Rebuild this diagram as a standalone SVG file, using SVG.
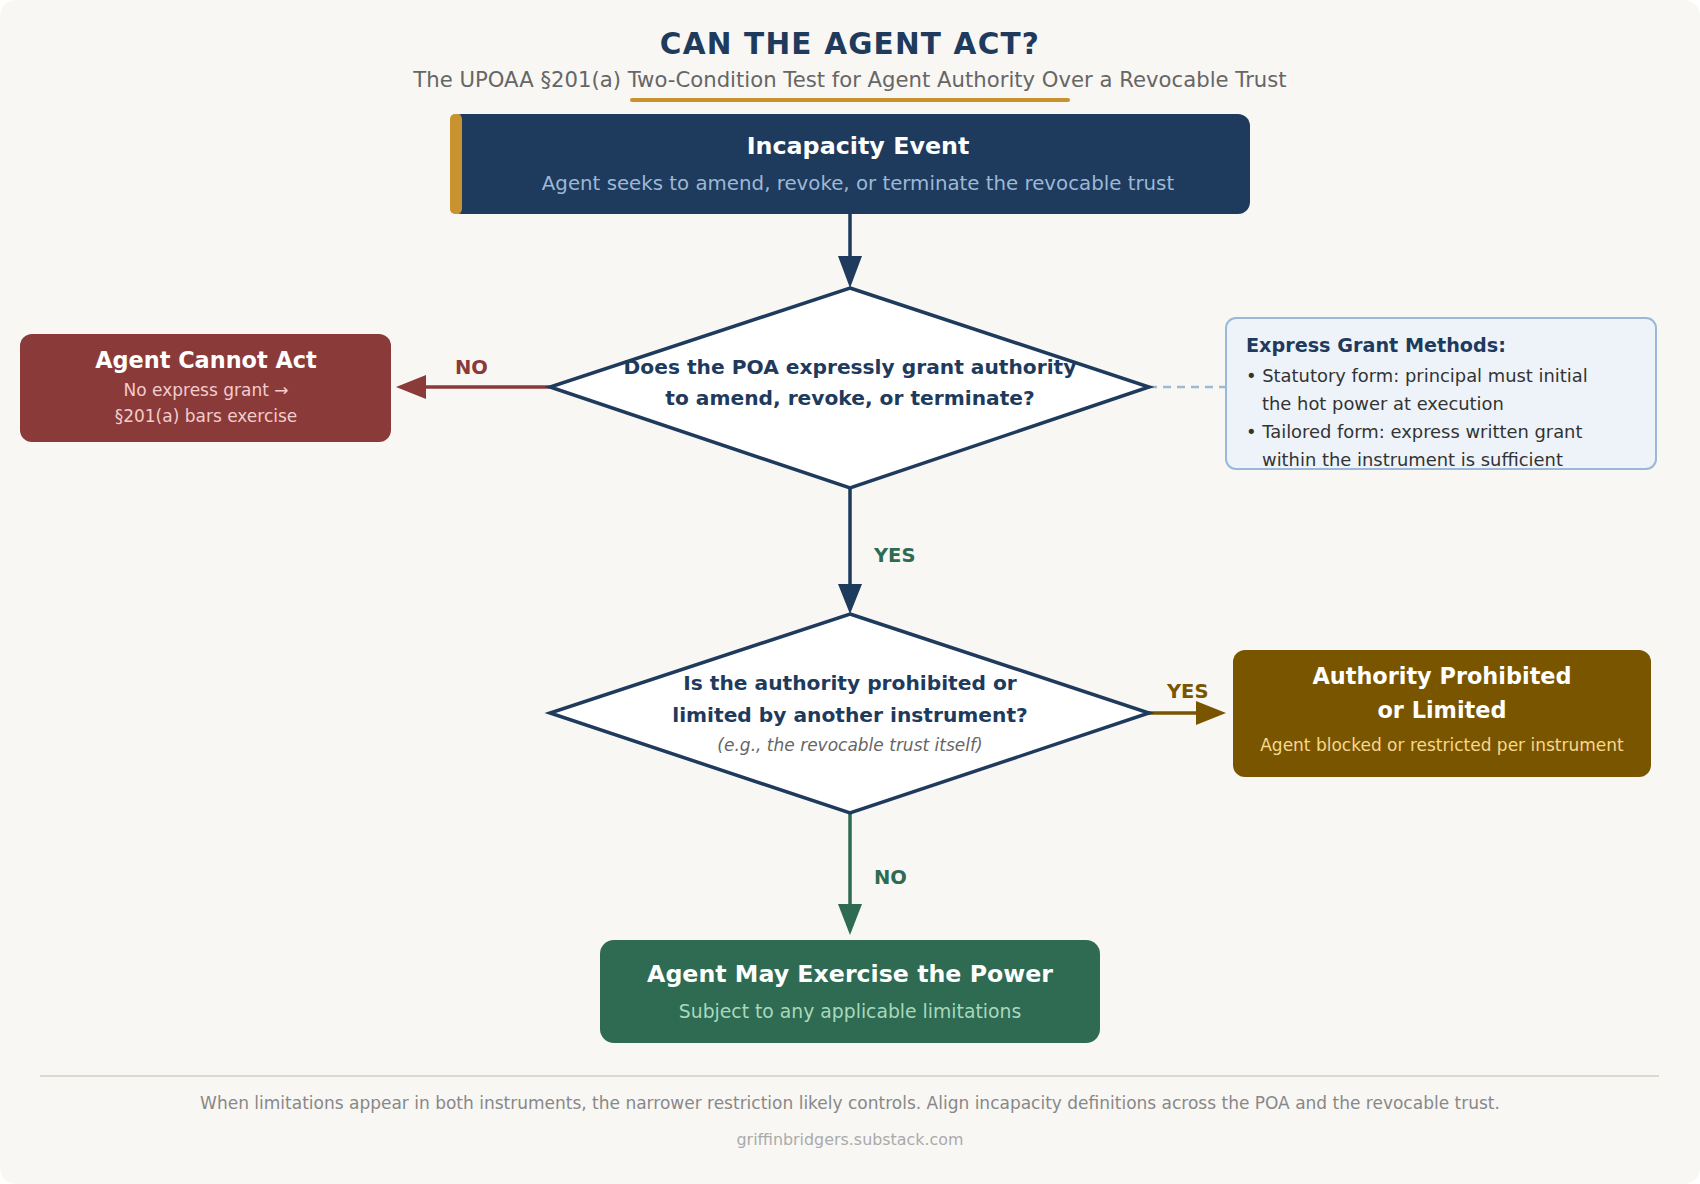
<svg xmlns="http://www.w3.org/2000/svg" width="1700" height="1184" viewBox="0 0 1700 1184">
<defs>
<style>
text{font-family:"DejaVu Sans","Liberation Sans",sans-serif;text-anchor:middle}
.h{font-weight:bold;font-size:22.4px;fill:#ffffff}
.q{font-weight:bold;font-size:20.2px;fill:#1e3a5c}
.lbl{font-weight:bold;font-size:19.5px;text-anchor:start}
.sm{font-size:17px}
.info{font-size:17.9px;fill:#333333;text-anchor:start}
.dia{fill:#ffffff;stroke:#1e3a5c;stroke-width:3.5}
</style>
</defs>
<rect x="0" y="0" width="1700" height="1184" rx="16" fill="#f8f7f4"/>
<text x="850" y="54" style="font-size:29.5px;font-weight:bold;fill:#1e3a5c;letter-spacing:1.2px">CAN THE AGENT ACT?</text>
<text x="850" y="87" style="font-size:21.2px;fill:#666666">The UPOAA §201(a) Two-Condition Test for Agent Authority Over a Revocable Trust</text>
<line x1="632" y1="100" x2="1068" y2="100" stroke="#c8922e" stroke-width="4" stroke-linecap="round"/>

<g id="connectors">
<line x1="850" y1="214" x2="850" y2="258" stroke="#1e3a5c" stroke-width="3.5"/>
<path d="M838,256 L862,256 L850,288 Z" fill="#1e3a5c"/>
<line x1="550" y1="387" x2="424" y2="387" stroke="#8b3a3a" stroke-width="3.5"/>
<path d="M426,375 L426,399 L396,387 Z" fill="#8b3a3a"/>
<text x="455" y="374" class="lbl" style="fill:#8b3a3a">NO</text>
<line x1="1149" y1="387" x2="1225" y2="387" stroke="#9ab8d8" stroke-width="2.5" stroke-dasharray="8,6"/>
<line x1="850" y1="488" x2="850" y2="586" stroke="#1e3a5c" stroke-width="3.5"/>
<path d="M838,584 L862,584 L850,614 Z" fill="#1e3a5c"/>
<text x="874" y="562" class="lbl" style="fill:#2e6b52">YES</text>
<line x1="1149" y1="713" x2="1198" y2="713" stroke="#7a5500" stroke-width="3.5"/>
<path d="M1196,701 L1196,725 L1226,713 Z" fill="#7a5500"/>
<text x="1167" y="698" class="lbl" style="fill:#7a5500">YES</text>
<line x1="850" y1="813" x2="850" y2="906" stroke="#2e6b52" stroke-width="3.5"/>
<path d="M838,904 L862,904 L850,935 Z" fill="#2e6b52"/>
<text x="874" y="884" class="lbl" style="fill:#2e6b52">NO</text>
</g>

<g id="start">
<rect x="450" y="114" width="800" height="100" rx="12" fill="#1e3a5c"/>
<rect x="450" y="114" width="12" height="100" rx="5" fill="#c8922e"/>
<text x="858" y="154" class="h" style="font-size:23.8px">Incapacity Event</text>
<text x="858" y="190" style="font-size:19.8px;fill:#9db8d6">Agent seeks to amend, revoke, or terminate the revocable trust</text>
</g>

<g id="q1">
<path d="M850,288 L1149,387 L850,488 L550,387 Z" class="dia"/>
<text x="850" y="374" class="q">Does the POA expressly grant authority</text>
<text x="850" y="405" class="q">to amend, revoke, or terminate?</text>
</g>

<g id="cannot">
<rect x="20" y="334" width="371" height="108" rx="12" fill="#8b3a3a"/>
<text x="206" y="368" class="h">Agent Cannot Act</text>
<text x="206" y="396" class="sm" style="fill:#f2cccc">No express grant →</text>
<text x="206" y="422" class="sm" style="fill:#f2cccc">§201(a) bars exercise</text>
</g>

<g id="info">
<rect x="1226" y="318" width="430" height="151" rx="10" fill="#eef3fa" stroke="#9ab8d8" stroke-width="2"/>
<text x="1246" y="352" style="font-size:19.2px;font-weight:bold;fill:#1e3a5c;text-anchor:start">Express Grant Methods:</text>
<text x="1246" y="382" class="info">• Statutory form: principal must initial</text>
<text x="1262" y="410" class="info">the hot power at execution</text>
<text x="1246" y="438" class="info">• Tailored form: express written grant</text>
<text x="1262" y="466" class="info">within the instrument is sufficient</text>
</g>

<g id="q2">
<path d="M850,614 L1149,713 L850,813 L550,713 Z" class="dia"/>
<text x="850" y="690" class="q">Is the authority prohibited or</text>
<text x="850" y="722" class="q">limited by another instrument?</text>
<text x="850" y="751" style="font-size:17px;font-style:italic;fill:#666666">(e.g., the revocable trust itself)</text>
</g>

<g id="limited">
<rect x="1233" y="650" width="418" height="127" rx="12" fill="#7a5500"/>
<text x="1442" y="684" class="h">Authority Prohibited</text>
<text x="1442" y="718" class="h">or Limited</text>
<text x="1442" y="751" class="sm" style="fill:#f5d98e">Agent blocked or restricted per instrument</text>
</g>

<g id="may">
<rect x="600" y="940" width="500" height="103" rx="14" fill="#2e6b52"/>
<text x="850" y="982" class="h" style="font-size:23.7px">Agent May Exercise the Power</text>
<text x="850" y="1018" style="font-size:18.8px;fill:#a8d8be">Subject to any applicable limitations</text>
</g>

<line x1="40" y1="1076" x2="1659" y2="1076" stroke="#dcd8d2" stroke-width="2"/>
<text x="850" y="1109" style="font-size:17px;fill:#888888">When limitations appear in both instruments, the narrower restriction likely controls. Align incapacity definitions across the POA and the revocable trust.</text>
<text x="850" y="1145" style="font-size:15.9px;fill:#aaaaaa">griffinbridgers.substack.com</text>
</svg>
